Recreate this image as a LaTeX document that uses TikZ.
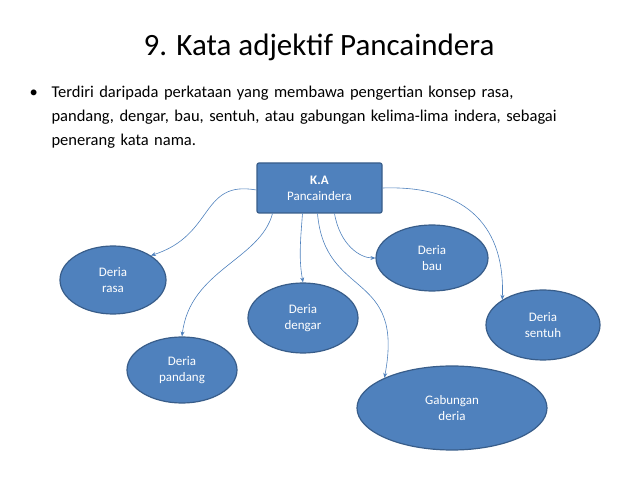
\documentclass[tikz,border=0pt]{standalone}
\usepackage{fontspec}
\setmainfont{Carlito}
\usetikzlibrary{shapes.geometric,arrows.meta}
\definecolor{fillb}{HTML}{4F81BD}
\definecolor{edgeb}{HTML}{385D8A}
\begin{document}
\begin{tikzpicture}[x=1pt,y=-1pt,
  ell/.style={ellipse,draw=edgeb,fill=fillb,line width=1.2pt,text=white,font=\fontsize{13}{16}\selectfont,align=center,minimum width=#1},
  conn/.style={draw=fillb,line width=0.6pt,-{Stealth[length=5pt,width=4pt]}}]
\useasboundingbox (0,0) rectangle (638,478);
\node at (319,47) {\fontsize{31}{36}\selectfont 9. Kata adjektif Pancaindera};
\node[anchor=north west,align=left,text width=580pt,font=\fontsize{16.5}{24}\selectfont] at (26,83)
{\makebox[22pt][l]{•}Terdiri daripada perkataan yang membawa pengertian konsep rasa,\\
\hspace*{22pt}pandang, dengar, bau, sentuh, atau gabungan kelima-lima indera, sebagai\\
\hspace*{22pt}penerang kata nama.};
\node[draw=edgeb,fill=fillb,line width=1.2pt,rounded corners=2pt,minimum width=125pt,minimum height=50pt,text=white,align=center,font=\fontsize{13}{16}\selectfont] (ka) at (319.5,188) {\textbf{K.A}\\Pancaindera};
\node[ell=106pt,minimum height=68pt] (rasa) at (113,280) {Deria\\rasa};
\node[ell=110pt,minimum height=66pt] (pandang) at (182,370) {Deria\\pandang};
\node[ell=110pt,minimum height=70pt] (dengar) at (303,318) {Deria\\dengar};
\node[ell=112pt,minimum height=66pt] (bau) at (432,258) {Deria\\bau};
\node[ell=114pt,minimum height=70pt] (sentuh) at (543,325) {Deria\\sentuh};
\node[ell=190pt,minimum height=84pt] (gab) at (452,408) {Gabungan\\deria};
\draw[conn] (ka.west) ++(0,2) coordinate (a1) .. controls (200,180) and (215,235) .. (rasa.north east);
\draw[conn] ([xshift=-47pt]ka.south) .. controls (260,260) and (190,270) .. (pandang.north);
\draw[conn] ([xshift=-17pt]ka.south) .. controls (300,245) and (299,260) .. (dengar.north);
\draw[conn] ([xshift=-2pt]ka.south) .. controls (325,300) and (405,270) .. (gab.north west);
\draw[conn] ([xshift=15pt]ka.south) .. controls (340,245) and (360,258) .. (bau.west);
\draw[conn] (ka.east) .. controls (470,185) and (505,230) .. (sentuh.north west);
\end{tikzpicture}
\end{document}
